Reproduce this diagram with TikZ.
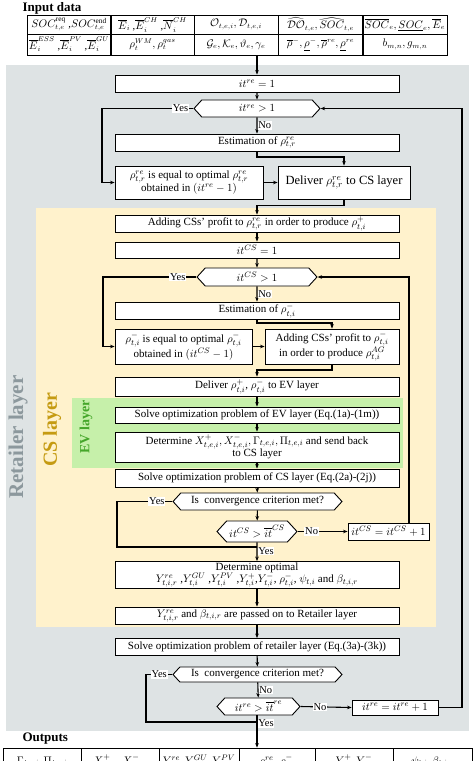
\documentclass[tikz,border=0pt]{standalone}
\usepackage{amsmath,amssymb}
\usepackage{fontspec}
\setmainfont{Liberation Serif}
\usepackage{tikz}
\usetikzlibrary{shapes.symbols}
\usetikzlibrary{arrows.meta}
\usepackage{xcolor}
\definecolor{retgrey}{HTML}{DEE3E4}
\definecolor{csyellow}{HTML}{FFF2CC}
\definecolor{evgreen}{HTML}{C6F0AA}
\definecolor{rettext}{HTML}{8C989D}
\definecolor{cstext}{HTML}{C59B12}
\definecolor{evtext}{HTML}{45A62A}

\begin{document}
\begin{tikzpicture}[x=1pt,y=-1pt,>={Stealth[length=4.5pt,width=3.6pt]},
  box/.style={draw,line width=0.9pt,fill=white,minimum height=17pt,inner sep=1pt,align=center,font=\fontsize{11}{12.5}\selectfont},
  wide/.style={box,minimum width=284pt},
  hexa/.style={draw,line width=0.9pt,fill=white,signal,signal to=west and east,signal pointer angle=95,inner sep=1pt,font=\fontsize{11}{12.5}\selectfont},
  lbl/.style={fill=white,inner sep=0.8pt,font=\fontsize{10.5}{12}\selectfont},
  cell/.style={draw,line width=0.8pt,minimum width=84pt,inner sep=0pt,font=\fontsize{10.5}{12}\selectfont},
  outcell/.style={draw,line width=0.8pt,minimum height=28pt,inner sep=0pt,font=\fontsize{11}{13}\selectfont},
  flow/.style={line width=1.1pt}]
\useasboundingbox (0,0) rectangle (474,761);
% layer backgrounds
\fill[retgrey] (6,65) rectangle (469,731);
\fill[csyellow] (36,208) rectangle (436,627);
\fill[evgreen] (72,398) rectangle (403,468);
\node[rotate=90,text=rettext,font=\fontsize{21}{24}\bfseries\selectfont] (retlab) at (18,437) {Retailer layer};
\node[rotate=90,text=cstext,font=\fontsize{20}{24}\bfseries\selectfont] (cslab) at (52,430) {CS layer};
\node[rotate=90,text=evtext,font=\fontsize{14}{16}\bfseries\selectfont] (evlab) at (86,427) {EV layer};

% input data
\node[anchor=west,font=\fontsize{13}{15}\bfseries\selectfont] (intitle) at (19,8) {Input data};
\node[cell,minimum height=19pt] (in11) at (69,24.75) {$SOC^{\mathrm{req}}_{t,e}$ ,$SOC^{\mathrm{end}}_{t,e}$};
\node[cell,minimum height=19pt] (in12) at (152.5,24.75) {$\overline{E}_i$ ,$\overline{E}^{CH}_i$ ,$\overline{N}^{CH}_i$};
\node[cell,minimum height=19pt] (in13) at (236,24.75) {$\mathcal{O}_{t,e,i}, \mathcal{D}_{t,e,i}$};
\node[cell,minimum height=19pt] (in14) at (320.5,24.75) {$\widehat{\mathcal{DO}}_{t,e}, \widehat{SOC}_{t,e}$};
\node[cell,minimum height=19pt] (in15) at (405,24.75) {$\overline{SOC}_e, \underline{SOC}_e, \overline{E}_e$};
\node[cell,minimum height=21pt] (in21) at (69,44.5) {$\overline{E}^{ESS}_i$ ,$\overline{E}^{PV}_i$ ,$\overline{E}^{GU}_i$};
\node[cell,minimum height=21pt] (in22) at (152.5,44.5) {$\rho^{WM}_t, \rho^{gas}_t$};
\node[cell,minimum height=21pt] (in23) at (236,44.5) {$\mathcal{G}_e, \mathcal{K}_e, \vartheta_e, \gamma_e$};
\node[cell,minimum height=21pt] (in24) at (320.5,44.5) {$\overline{\rho}^{-}, \underline{\rho}^{-}, \overline{\rho}^{re}, \underline{\rho}^{re}$};
\node[cell,minimum height=21pt] (in25) at (405,44.5) {$b_{m,n}, g_{m,n}$};

% retailer layer, first part
\node[wide] (itre) at (257,83.5) {$it^{re}=1$};
\node[hexa,minimum width=126pt,minimum height=17pt] (hre) at (257,108.5) {$it^{re}>1$};
\node[wide] (estre) at (257,142.5) {Estimation of $\rho^{re}_{t,r}$};
\node[box,minimum width=148pt,minimum height=33pt] (eqre) at (189,182.5) {$\rho^{re}_{t,r}$ is equal to optimal $\rho^{re}_{t,r}$\\obtained in $(it^{re}-1)$};
\node[box,minimum width=132pt,minimum height=33pt,font=\fontsize{12.5}{14}\selectfont] (delre) at (344,182.5) {Deliver $\rho^{re}_{t,r}$ to CS layer};

% CS layer
\node[wide] (addre) at (257,223.5) {Adding CSs' profit to $\rho^{re}_{t,r}$ in order to produce $\rho^{+}_{t,i}$};
\node[wide,minimum height=16pt] (itcs) at (257,250) {$it^{CS}=1$};
\node[hexa,minimum width=120pt,minimum height=18pt] (hcs) at (257,277) {$it^{CS}>1$};
\node[wide] (estcs) at (257,310.5) {Estimation of $\rho^{-}_{t,i}$};
\node[box,minimum width=137pt,minimum height=35pt] (eqcs) at (183.5,346.5) {$\rho^{-}_{t,i}$ is equal to optimal $\rho^{-}_{t,i}$\\obtained in $(it^{CS}-1)$};
\node[box,minimum width=134pt,minimum height=35pt] (addcs) at (332,346.5) {Adding CSs' profit to $\rho^{-}_{t,i}$\\in order to produce $\rho^{AG}_{t,i}$};
\node[wide,minimum height=19pt] (delcs) at (257,386.5) {Deliver $\rho^{+}_{t,i}$, $\rho^{-}_{t,i}$ to EV layer};

% EV layer
\node[wide,minimum height=16pt] (solev) at (257,415) {Solve optimization problem of EV layer (Eq.(1a)-(1m))};
\node[wide,minimum height=30pt] (detev) at (257,447) {Determine $X^{+}_{t,e,i}, X^{-}_{t,e,i}, \Gamma_{t,e,i}, \Pi_{t,e,i}$ and send back\\to CS layer};

\node[wide,minimum height=18pt] (solcs) at (257,478) {Solve optimization problem of CS layer (Eq.(2a)-(2j))};
\node[hexa,minimum width=169pt,minimum height=17pt] (convcs) at (257.5,501.5) {Is\ \ convergence criterion met?};
\node[hexa,minimum width=80pt,minimum height=21pt] (maxcs) at (257,531.5) {$it^{CS}>\overline{it}^{CS}$};
\node[box,minimum width=81pt,minimum height=17pt] (inccs) at (388.5,531.5) {$it^{CS}=it^{CS}+1$};
\node[wide,minimum height=26pt] (detopt) at (257,575) {Determine optimal\\$Y^{re}_{t,i,r}$ ,$Y^{GU}_{t,i}$ ,$Y^{PV}_{t,i}$ ,$Y^{+}_{t,i}$,$Y^{-}_{t,i}$, $\rho^{-}_{t,i}$, $\psi_{t,i}$ and $\beta_{t,i,r}$};
\node[wide] (pass) at (257,615.5) {$Y^{re}_{t,i,r}$ and $\beta_{t,i,r}$ are passed on to Retailer layer};

% retailer layer, second part
\node[wide] (solre) at (257,647) {Solve optimization problem of retailer layer (Eq.(3a)-(3k))};
\node[hexa,minimum width=169pt,minimum height=15pt] (convre) at (257.5,674.5) {Is\ \ convergence criterion met?};
\node[hexa,minimum width=83pt,minimum height=17pt] (maxre) at (258.5,706.5) {$it^{re}>\overline{it}^{re}$};
\node[box,minimum width=86pt,minimum height=15pt] (incre) at (395,707.5) {$it^{re}=it^{re}+1$};

% outputs
\node[anchor=west,font=\fontsize{13}{15}\bfseries\selectfont] (outtitle) at (19,739) {Outputs};
\node[outcell,minimum width=78pt] (out1) at (42,762) {$\Gamma_{t,e,i}, \Pi_{t,e,i}$};
\node[outcell,minimum width=78pt] (out2) at (120,762) {$X^{+}_{t,e,i}, X^{-}_{t,e,i}$};
\node[outcell,minimum width=80pt] (out3) at (199,762) {$Y^{re}_{t,i}, Y^{GU}_{t,i}, Y^{PV}_{t,i}$};
\node[outcell,minimum width=76pt] (out4) at (277,762) {$\rho^{re}_{t,r}, \rho^{-}_{t,i}$};
\node[outcell,minimum width=78pt] (out5) at (354,762) {$Y^{+}_{t,i}, Y^{-}_{t,i}$};
\node[outcell,minimum width=79pt] (out6) at (432.5,762) {$\psi_{t,i}, \beta_{t,i,r}$};

% turning points
\coordinate (yre) at (102,108.5);
\coordinate (ycs) at (103,277);
\coordinate (yconvcs) at (117,501.5);
\coordinate (jcs) at (257,547);
\coordinate (yconvre) at (146,674.5);
\coordinate (jre) at (257,722);
\coordinate (rcs) at (409,277);
\coordinate (rre) at (462,108.5);

% connectors
\draw[flow,->] (in23.south -| itre) -- (itre.north);
\draw[flow,->] (itre) -- (hre);
\draw[flow,->] (hre) -- node[lbl,right]{No} (estre);
\draw[flow,->] (hre.west) -- node[lbl,pos=.14]{Yes} (yre) |- (eqre.west);
\draw[flow,->] (estre.south) -- ++(0,5.5) -| (delre.north);
\draw[flow,->] (eqre) -- (delre);
\draw[flow,->] (delre.south) -- ++(0,6) -| (addre.north);
\draw[flow,->] (addre) -- (itcs);
\draw[flow,->] (itcs) -- (hcs);
\draw[flow,->] (hcs) -- node[lbl,right]{No} (estcs);
\draw[flow,->] (hcs.west) -- node[lbl,pos=.2]{Yes} (ycs) |- (eqcs.west);
\draw[flow,->] (estcs.south) -- ++(0,3.5) -| (addcs.north);
\draw[flow,->] (eqcs) -- (addcs);
\draw[flow,->] (addcs.south) -- ++(0,5.5) -| (delcs.north);
\draw[flow,->] (delcs) -- (solev);
\draw[flow,->] (solev) -- (detev);
\draw[flow,->] (detev) -- (solcs);
\draw[flow,->] (solcs) -- (convcs);
\draw[flow,->] (convcs) -- (maxcs);
\draw[flow] (convcs.west) -- node[lbl,pos=.28]{Yes} (yconvcs) |- (jcs);
\draw[flow,->] (maxcs) -- node[lbl,right,pos=.45]{Yes} (detopt);
\draw[flow,->] (maxcs.east) -- node[lbl,pos=.28]{No} (inccs.west);
\draw[flow,->] (inccs.north -| rcs) -- (rcs) -- (hcs.east);
\draw[flow,->] (detopt) -- (pass);
\draw[flow,->] (pass) -- (solre);
\draw[flow,->] (solre) -- (convre);
\draw[flow,->] (convre) -- node[lbl,right]{No} (maxre);
\draw[flow] (convre.west) -- node[lbl,pos=.5]{Yes} (yconvre) |- (jre);
\draw[flow,->] (maxre.south -| jre) -- node[lbl,right,pos=.25]{Yes} (out4.north -| jre);
\draw[flow,->] (maxre.east) -- node[lbl,pos=.38]{No} (incre.west);
\draw[flow,->] (incre.east) -| (rre) -- (hre.east);
\end{tikzpicture}
\end{document}
